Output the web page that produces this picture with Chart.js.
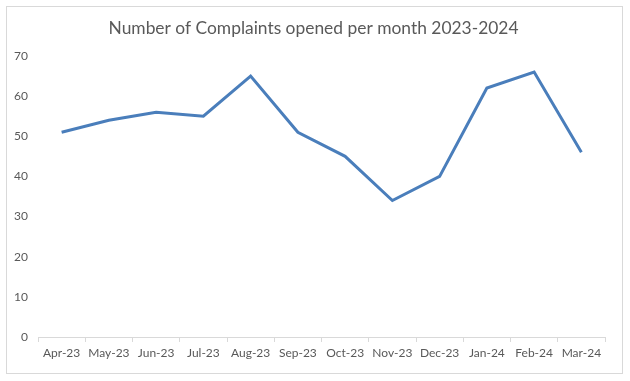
<!DOCTYPE html>
<html>
<head>
<meta charset="utf-8">
<script src="https://cdn.jsdelivr.net/npm/chart.js@4/dist/chart.umd.min.js"></script>
<style>
  html, body { margin: 0; padding: 0; background: #ffffff; }
  #wrap { position: relative; width: 630px; height: 381px; }
</style>
</head>
<body>
<div id="wrap"><canvas id="c" width="630" height="381"></canvas></div>
<script>
const categories = ["Apr-23","May-23","Jun-23","Jul-23","Aug-23","Sep-23","Oct-23","Nov-23","Dec-23","Jan-24","Feb-24","Mar-24"];
const complaints = [51, 54, 56, 55, 65, 51, 45, 34, 40, 62, 66, 46];
const yTicks = [0, 10, 20, 30, 40, 50, 60, 70];
const titleText = "Number of Complaints opened per month 2023-2024";

const borderPlugin = {
  id: 'outerBorder',
  beforeDraw(chart) {
    const ctx = chart.ctx;
    ctx.save();
    ctx.fillStyle = '#ffffff';
    ctx.fillRect(0, 0, chart.width, chart.height);
    ctx.strokeStyle = '#d9d9d9';
    ctx.lineWidth = 1;
    ctx.strokeRect(6.5, 6.5, 616, 367);
    ctx.restore();
  },
  afterLayout(chart) {
    const tb = chart.titleBlock;
    if (tb) { tb.left += 7; tb.right += 7; }
  }
};

new Chart(document.getElementById('c'), {
  type: 'line',
  data: {
    labels: categories,
    datasets: [{
      data: complaints,
      borderColor: '#4a7ebb',
      borderWidth: 3,
      pointRadius: 0,
      tension: 0,
      fill: false
    }]
  },
  options: {
    responsive: false,
    animation: false,
    devicePixelRatio: 1,
    layout: { padding: { left: 8, right: 25, top: 0, bottom: 12 } },
    plugins: {
      legend: { display: false },
      tooltip: { enabled: false },
      title: {
        display: true,
        text: titleText,
        color: '#595959',
        font: { family: 'Lato', size: 17.4, weight: 'normal', lineHeight: 1.2 },
        padding: { top: 17.5, bottom: 17.6 }
      }
    },
    scales: {
      x: {
        offset: true,
        grid: { display: true, offset: true, drawOnChartArea: false, drawTicks: true, tickLength: 5, color: '#d9d9d9' },
        border: { display: true, color: '#d9d9d9', width: 1 },
        ticks: { color: '#595959', font: { family: 'Lato', size: 12 }, maxRotation: 0, autoSkip: false, padding: 4 },
        afterFit(scale) { scale.height = 32; }
      },
      y: {
        min: 0, max: 70,
        afterBuildTicks(scale) { scale.ticks = yTicks.map(v => ({ value: v })); },
        grid: { display: false, drawTicks: false },
        border: { display: false },
        ticks: { color: '#595959', font: { family: 'Lato', size: 12 }, padding: 10 },
        afterFit(scale) { scale.width = 30; }
      }
    }
  },
  plugins: [borderPlugin]
});
</script>
</body>
</html>
